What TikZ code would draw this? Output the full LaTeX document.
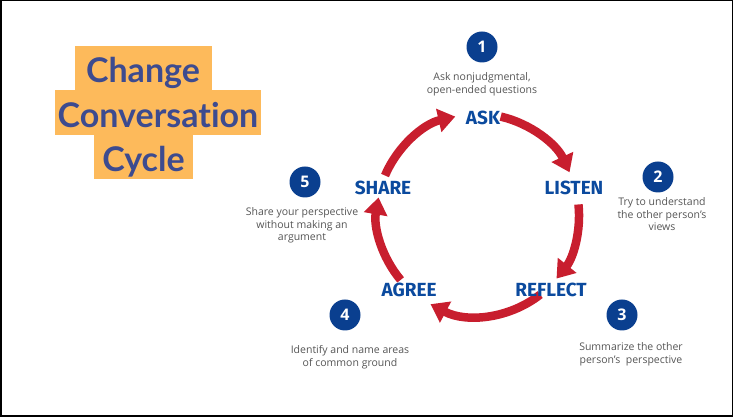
\documentclass[tikz,border=0pt]{standalone}
\usepackage{fontspec}
\setmainfont{Open Sans}
\newfontfamily\headfont[Ligatures=NoCommon]{Lato}
\newfontfamily\stagefont{Fira Sans}
\usetikzlibrary{positioning, arrows.meta}

\definecolor{headblue}{HTML}{3D4B8F}
\definecolor{hilite}{HTML}{FDBA5B}
\definecolor{stageblue}{HTML}{0B4A9E}
\definecolor{badgeblue}{HTML}{0A3F8F}
\definecolor{cyclered}{HTML}{C81E2E}
\definecolor{notegray}{HTML}{555555}

\begin{document}
\begin{tikzpicture}[x=1pt, y=1pt,
    title/.style={fill=hilite, text=headblue, font=\headfont\bfseries\fontsize{34}{34}\selectfont, text height=37pt, text depth=8pt, inner ysep=0pt, inner xsep=3pt},
    stage/.style={text=stageblue, font=\stagefont\bfseries\fontsize{19}{19}\selectfont, inner sep=1pt},
    badge/.style={circle, fill=badgeblue, text=white, minimum size=31pt, inner sep=0pt, font=\bfseries\fontsize{16}{16}\selectfont},
    note/.style={align=center, text=notegray, inner sep=0pt, font=\fontsize{10.5}{12.5}\selectfont},
    turn/.style={draw=cyclered, line width=8.5pt, -{Triangle[length=17pt, width=23pt]}}
]
    \useasboundingbox (0,0) rectangle (733,417);
    \draw[line width=1.5pt] (0.75,0.75) rectangle (732.25,416.25);

    % heading
    \node[title, minimum width=137pt] (change) at (143,348.5) {Change};
    \node[title, minimum width=202pt] (conv) at (158,304) {Conversation};
    \node[title, minimum width=99pt] (cycle) at (143.5,260) {Cycle};

    % the cycle
    \coordinate (ctr) at (478,202);
    \draw[turn] ([shift={(157:101)}]ctr) arc[start angle=157, end angle=103, radius=101];
    \draw[turn] ([shift={(77:101)}]ctr) arc[start angle=77, end angle=25, radius=101];
    \draw[turn] ([shift={(6:101)}]ctr) arc[start angle=6, end angle=-39, radius=101];
    \draw[turn] ([shift={(-52:101)}]ctr) arc[start angle=-52, end angle=-118, radius=101];
    \draw[turn] ([shift={(-140:101)}]ctr) arc[start angle=-140, end angle=-190, radius=101];

    \node[stage] (ask) at (483,299) {ASK};
    \node[stage] (listen) at (574,229) {LISTEN};
    \node[stage] (reflect) at (551,127) {REFLECT};
    \node[stage] (agree) at (409,127) {AGREE};
    \node[stage] (share) at (383,229) {SHARE};

    % numbered steps
    \node[badge] (b1) at (482,370) {1};
    \node[badge] (b2) at (658,240) {2};
    \node[badge] (b3) at (622,102) {3};
    \node[badge] (b4) at (345,102) {4};
    \node[badge] (b5) at (305,235) {5};

    \node[note, below=10pt of b1] (n1) {Ask nonjudgmental,\\open-ended questions};
    \node[note, below=5pt of b2, xshift=4pt] (n2) {Try to understand\\the other person's\\views};
    \node[note, below=12pt of b3, xshift=9pt] (n3) {Summarize the other\\person's\ \ perspective};
    \node[note, below=15pt of b4, xshift=5pt] (n4) {Identify and name areas\\of common ground};
    \node[note, below=10pt of b5, xshift=-3pt] (n5) {Share your perspective\\without making an\\argument};

\end{tikzpicture}
\end{document}
